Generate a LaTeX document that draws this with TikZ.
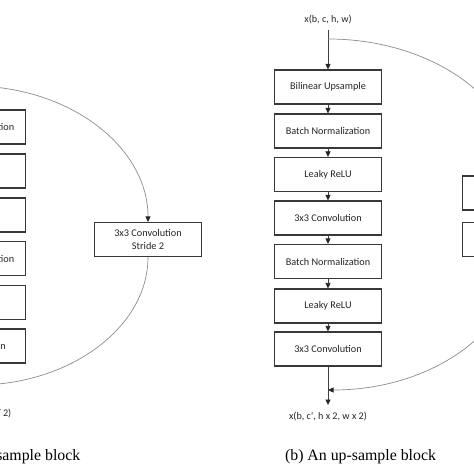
\documentclass[tikz,border=0pt]{standalone}
\usepackage{fontspec}
\setmainfont{Liberation Serif}
\newfontfamily\carl{Carlito}
\usetikzlibrary{arrows.meta}
\begin{document}
\begin{tikzpicture}[x=1bp,y=-1bp,
  blk/.style={draw=black!78, line width=1.1bp, minimum width=107bp, minimum height=34bp,
    inner sep=0pt, font=\carl\fontsize{10.3}{13}\selectfont, text=black!85, align=center},
  lbl/.style={font=\carl\fontsize{10.2}{12}\selectfont, text=black!85, inner sep=0pt},
  captext/.style={font=\fontsize{15.9}{18}\selectfont, inner sep=0pt},
  tiphead/.style={-{Triangle[length=5.5bp,width=5bp,color=black!85]}},
  flow/.style={draw=black!75, line width=0.6bp, tiphead},
  skip/.style={draw=black!45, line width=0.7bp, tiphead}]
\useasboundingbox (0,0) rectangle (474,474);
\clip (0,0) rectangle (474,474);

% ---------- left block (down-sample), mostly cut off ----------
\node[blk] (l1) at (-28,127) {Batch Normalization};
\node[blk] (l2) at (-28,171) {};
\node[blk] (l3) at (-28,215) {};
\node[blk] (l4) at (-28,258.5) {Batch Normalization};
\node[blk] (l5) at (-28,302.5) {};
\node[blk] (l6) at (-28,346) {3x3 Convolution};
\foreach \a/\b in {l1/l2,l2/l3,l3/l4,l4/l5,l5/l6} \draw[flow] (\a.south) -- (\b.north);
\node[blk] (lc) at (148,239.5) {3x3 Convolution\\Stride 2};
\coordinate (lbr) at (-28,86);
\coordinate (lmerge) at (-28,385);
\draw[skip] (lbr) .. controls +(97.2,0) and +(0,-75.1) .. (lc.north);
\draw[skip] (lc.south) .. controls +(0,70.7) and +(97.2,0) .. (lmerge);
\node[lbl, anchor=east] (lout) at (11.5,413) {x(b, c', h / 2, w / 2)};
\node[captext, anchor=east] (capa) at (80.5,457) {(a) A down-sample block};

% ---------- right block (up-sample) ----------
\node[lbl] (rin) at (328,19) {x(b, c, h, w)};
\node[blk] (r1) at (328,87) {Bilinear Upsample};
\node[blk] (r2) at (328,131) {Batch Normalization};
\node[blk] (r3) at (328,174.5) {Leaky ReLU};
\node[blk] (r4) at (328,218) {3x3 Convolution};
\node[blk] (r5) at (328,261.5) {Batch Normalization};
\node[blk] (r6) at (328,306) {Leaky ReLU};
\node[blk] (r7) at (328,349) {3x3 Convolution};
\draw[flow] ([yshift=-6bp]rin.south) -- (r1.north);
\foreach \a/\b in {r1/r2,r2/r3,r3/r4,r4/r5,r5/r6,r6/r7} \draw[flow] (\a.south) -- (\b.north);
\node[blk] (rs1) at (516,193) {};
\node[blk] (rs2) at (516,239.5) {};
\draw[flow] (rs1.south) -- (rs2.north);
\coordinate (rbr) at (328,39);
\coordinate (rmerge) at (328,390);
\coordinate (rend) at (328,405);
\draw[skip] (rbr) .. controls +(103.8,0) and +(0,-75.7) .. (rs1.north);
\draw[skip] (rs2.south) .. controls +(0,73.5) and +(103.8,0) .. (rmerge);
\draw[flow] (r7.south) -- (rend);
\node[lbl] (rout) at (328,416) {x(b, c', h x 2, w x 2)};
\node[captext] (capb) at (360.5,457) {(b) An up-sample block};
\end{tikzpicture}
\end{document}
